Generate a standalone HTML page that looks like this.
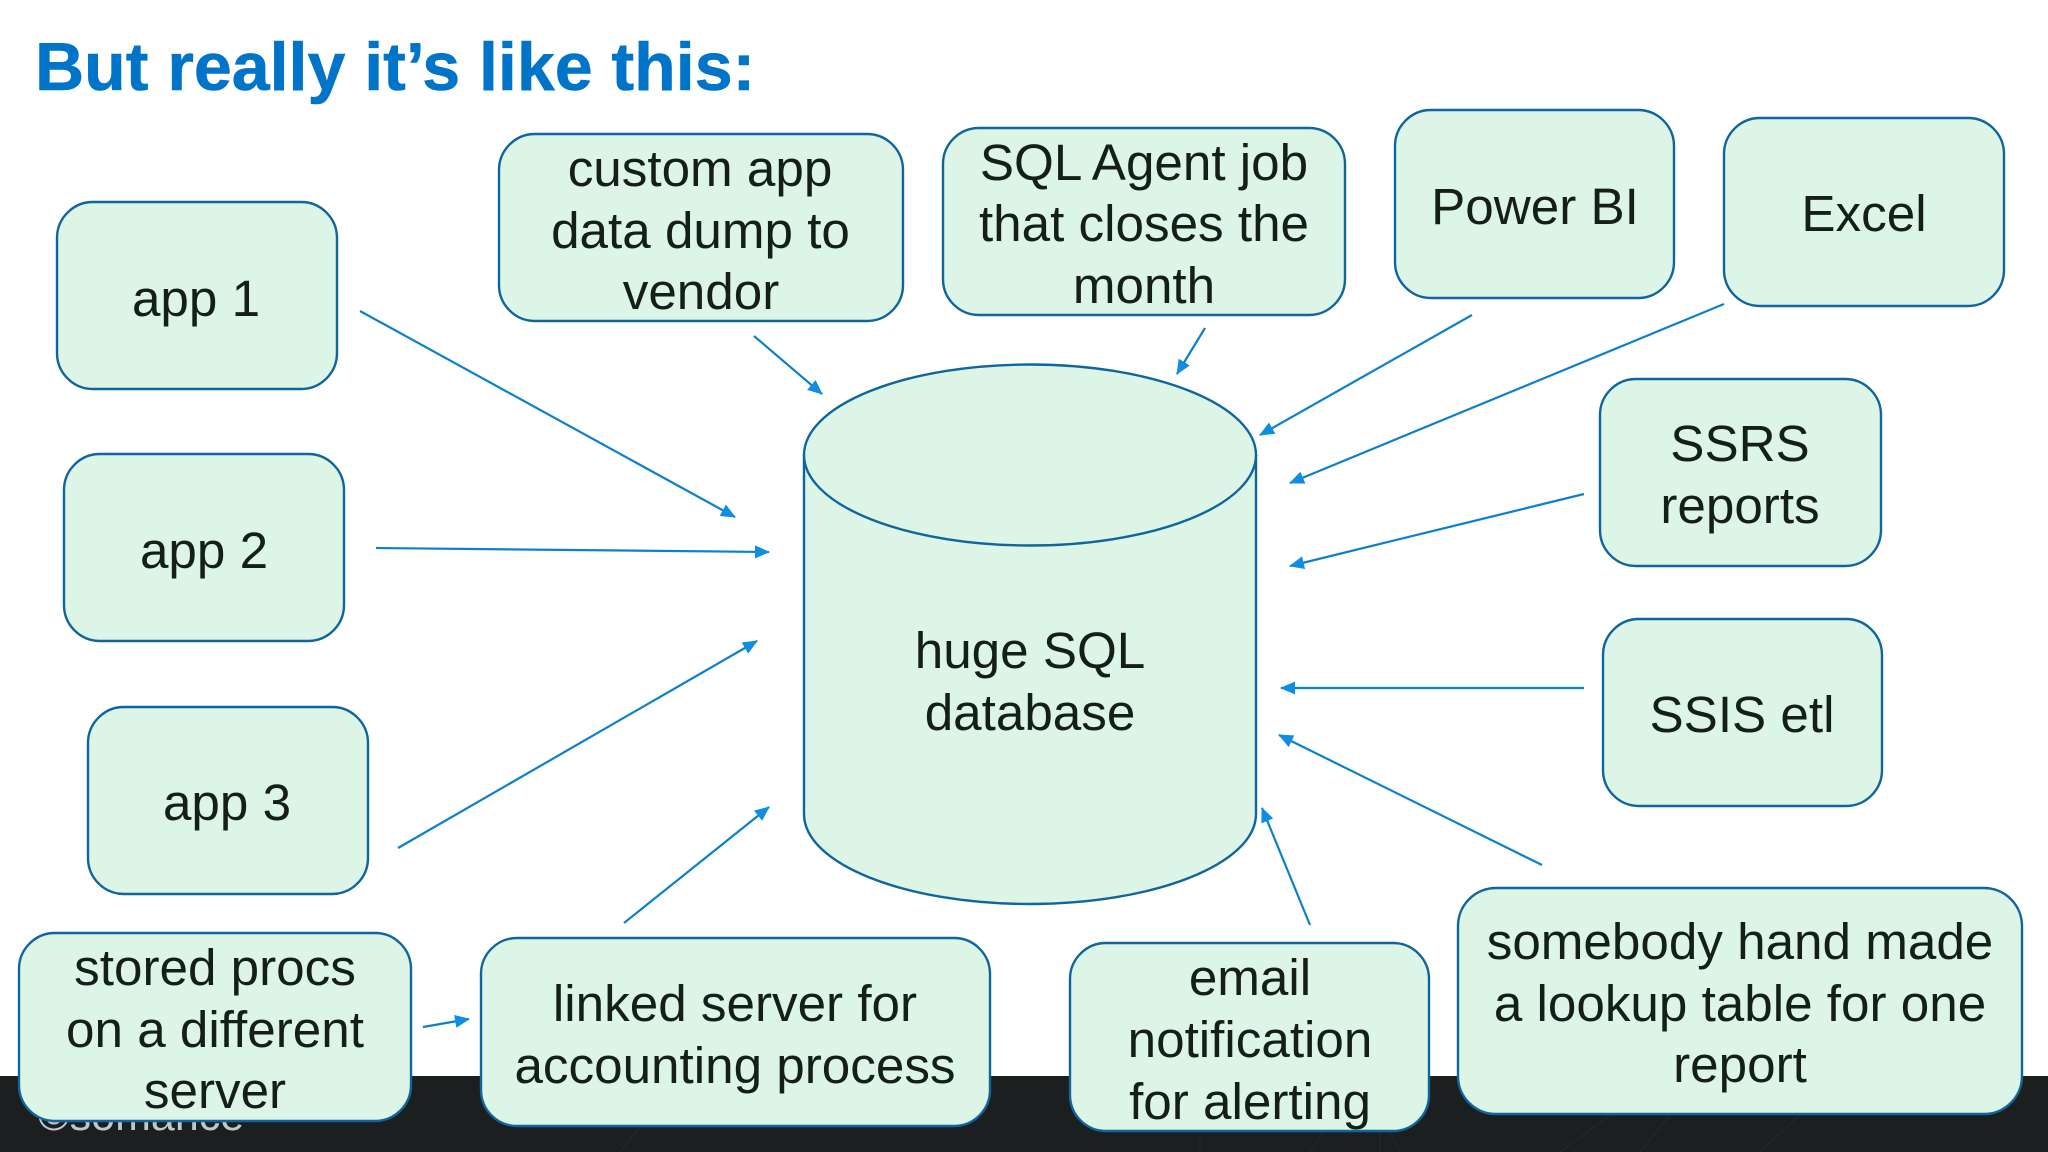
<!DOCTYPE html>
<html>
<head>
<meta charset="utf-8">
<style>
html,body{margin:0;padding:0;background:#fff;width:2048px;height:1152px;overflow:hidden}
svg{display:block}
text{font-family:"Liberation Sans",sans-serif}
.t{font-size:51.2px;fill:#141f1a;text-anchor:middle}
.b{fill:#dcf5e6;stroke:#0f659c;stroke-width:2.4}
.a{stroke:#0c80cc;stroke-width:2.2;fill:none;marker-end:url(#h)}
</style>
</head>
<body>
<svg width="2048" height="1152" viewBox="0 0 2048 1152" xmlns="http://www.w3.org/2000/svg">
<defs>
<marker id="h" markerUnits="userSpaceOnUse" markerWidth="15" markerHeight="13" refX="14" refY="6.5" orient="auto">
<path d="M0 0L15 6.5L0 13Z" fill="#0f8de0"/>
</marker>
</defs>
<rect width="2048" height="1152" fill="#fff"/>
<rect y="1076" width="2048" height="76" fill="#1c1f20"/>
<g stroke="#26292b" stroke-width="1" fill="none">
<path d="M1760 1152L1800 1115M1380 1152L1380 1115M1380 1115L1400 1152M1560 1152L1610 1115M620 1152L660 1100M1310 1152L1335 1115M1640 1152L1670 1115M1200 1152L1200 1130"/>
</g>
<text x="38" y="1130" font-size="43" fill="#c4c6c7">©somance</text>

<text x="35" y="90" font-size="68.1" font-weight="700" fill="#0074c8" stroke="#0074c8" stroke-width="0.6">But really it’s like this:</text>

<!-- cylinder -->
<path class="b" d="M804 455V814C804 864 905 904 1029.500 904S1256 864 1256 814V455Z"/>
<ellipse class="b" cx="1030" cy="455" rx="226" ry="90.500"/>

<!-- boxes -->
<rect class="b" x="57" y="202" width="280" height="187" rx="36"/>
<rect class="b" x="64" y="454" width="280" height="187" rx="36"/>
<rect class="b" x="88" y="707" width="280" height="187" rx="36"/>
<rect class="b" x="499" y="134" width="404" height="187" rx="36"/>
<rect class="b" x="943" y="128" width="402" height="187" rx="36"/>
<rect class="b" x="1395" y="110" width="279" height="188" rx="36"/>
<rect class="b" x="1724" y="118" width="280" height="188" rx="36"/>
<rect class="b" x="1600" y="379" width="281" height="187" rx="36"/>
<rect class="b" x="1603" y="619" width="279" height="187" rx="36"/>
<rect class="b" x="1458" y="888" width="564" height="226" rx="38"/>
<rect class="b" x="1070" y="943" width="359" height="188" rx="36"/>
<rect class="b" x="481" y="938" width="509" height="188" rx="36"/>
<rect class="b" x="19" y="933" width="392" height="188" rx="36"/>

<!-- arrows -->
<line class="a" x1="360" y1="311" x2="735" y2="517"/>
<line class="a" x1="376" y1="548" x2="769" y2="552"/>
<line class="a" x1="398" y1="848" x2="757" y2="641"/>
<line class="a" x1="624" y1="923" x2="769" y2="807"/>
<line class="a" x1="423" y1="1027" x2="469" y2="1019"/>
<line class="a" x1="754" y1="336" x2="822" y2="394"/>
<line class="a" x1="1205" y1="328" x2="1177" y2="374"/>
<line class="a" x1="1472" y1="315" x2="1260" y2="435"/>
<line class="a" x1="1724" y1="304" x2="1290" y2="483"/>
<line class="a" x1="1584" y1="494" x2="1290" y2="566"/>
<line class="a" x1="1584" y1="688" x2="1281" y2="688"/>
<line class="a" x1="1542" y1="865" x2="1279" y2="735"/>
<line class="a" x1="1310" y1="925" x2="1262" y2="808"/>

<!-- labels -->
<text class="t" x="196" y="316">app 1</text>
<text class="t" x="204" y="568">app 2</text>
<text class="t" x="227" y="820">app 3</text>
<text class="t" x="700" y="186">custom app</text>
<text class="t" x="700.500" y="248">data dump to</text>
<text class="t" x="701" y="309">vendor</text>
<text class="t" x="1144" y="180">SQL Agent job</text>
<text class="t" x="1144" y="241">that closes the</text>
<text class="t" x="1144" y="303">month</text>
<text class="t" x="1535" y="224">Power BI</text>
<text class="t" x="1864" y="231">Excel</text>
<text class="t" x="1740" y="461">SSRS</text>
<text class="t" x="1740" y="523">reports</text>
<text class="t" x="1742" y="732">SSIS etl</text>
<text class="t" x="1030" y="668">huge SQL</text>
<text class="t" x="1030" y="730">database</text>
<text class="t" x="1740" y="959">somebody hand made</text>
<text class="t" x="1740" y="1021">a lookup table for one</text>
<text class="t" x="1740" y="1082">report</text>
<text class="t" x="1250" y="995">email</text>
<text class="t" x="1250" y="1057">notification</text>
<text class="t" x="1250" y="1119">for alerting</text>
<text class="t" x="735" y="1021">linked server for</text>
<text class="t" x="735" y="1083">accounting process</text>
<text class="t" x="215" y="985">stored procs</text>
<text class="t" x="215" y="1047">on a different</text>
<text class="t" x="215" y="1108">server</text>
</svg>
</body>
</html>
